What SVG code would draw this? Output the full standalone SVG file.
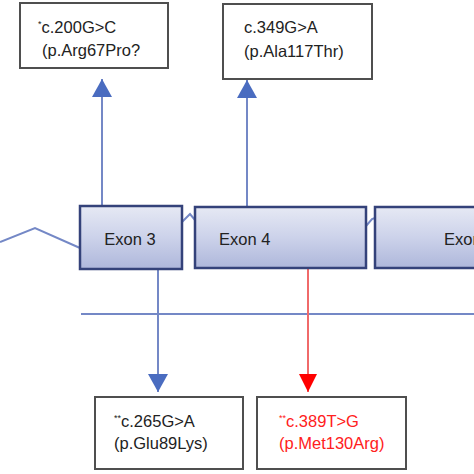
<svg xmlns="http://www.w3.org/2000/svg" width="474" height="474" viewBox="0 0 474 474">
<defs>
<linearGradient id="exg" x1="0" y1="0" x2="0" y2="1">
<stop offset="0" stop-color="#e6e9f4"/>
<stop offset="0.5" stop-color="#ccd2ea"/>
<stop offset="1" stop-color="#aeb7db"/>
</linearGradient>
<marker id="ahb" markerUnits="userSpaceOnUse" markerWidth="22" markerHeight="20" refX="18" refY="10" orient="auto">
<path d="M0,0 L18,10 L0,20 Z" fill="#4a6cc0"/>
</marker>
<marker id="ahr" markerUnits="userSpaceOnUse" markerWidth="22" markerHeight="20" refX="18" refY="10" orient="auto">
<path d="M0,1 L18,10 L0,19 Z" fill="#ff0000"/>
</marker>
</defs>
<style>
.box{fill:#ffffff;stroke:#4f4f4f;stroke-width:2}
.exon{fill:url(#exg);stroke:#34427a;stroke-width:2.5}
.t{font-family:"Liberation Sans",Arial,sans-serif;font-size:16.5px;fill:#222222}
.red{fill:#ff2020}
.sup{font-size:9px}
.ln{fill:none;stroke:#7488c6;stroke-width:2}
.lr{fill:none;stroke:#f06a6a;stroke-width:2}
</style>
<rect width="474" height="474" fill="#ffffff"/>
<g id="connectors">
<polyline class="ln" points="0,242 35,228 80,248"/>
<polyline class="ln" points="182,222 190,214 195,220"/>
<polyline class="ln" points="366,226 372,219 375,218"/>
<line class="ln" x1="81" y1="314" x2="474" y2="314"/>
<line class="ln" x1="102" y1="206" x2="102" y2="79" marker-end="url(#ahb)"/>
<line class="ln" x1="247" y1="207" x2="247" y2="80" marker-end="url(#ahb)"/>
<line class="ln" x1="158" y1="269" x2="158" y2="392" marker-end="url(#ahb)"/>
<line class="lr" x1="308" y1="268" x2="308" y2="392" marker-end="url(#ahr)"/>
</g>
<g id="exon3">
<rect class="exon" x="80" y="206" width="102" height="63"/>
<text class="t" x="130" y="245" text-anchor="middle">Exon 3</text>
</g>
<g id="exon4">
<rect class="exon" x="195" y="207" width="171" height="61"/>
<text class="t" x="219" y="245">Exon 4</text>
</g>
<g id="exon5">
<rect class="exon" x="375" y="207" width="110" height="61"/>
<text class="t" x="444" y="245">Exon</text>
</g>
<g id="var200">
<rect class="box" x="20" y="3" width="148" height="65"/>
<text class="t" x="38" y="33"><tspan class="sup" dy="-6">*</tspan><tspan dy="6">c.200G&gt;C</tspan></text>
<text class="t" x="42" y="56">(p.Arg67Pro?</text>
</g>
<g id="var349">
<rect class="box" x="223" y="4" width="149" height="75"/>
<text class="t" x="244" y="33">c.349G&gt;A</text>
<text class="t" x="244" y="57">(p.Ala117Thr)</text>
</g>
<g id="var265">
<rect class="box" x="95" y="397" width="148" height="72"/>
<text class="t" x="114" y="427"><tspan class="sup" dy="-6">**</tspan><tspan dy="6">c.265G&gt;A</tspan></text>
<text class="t" x="114" y="449">(p.Glu89Lys)</text>
</g>
<g id="var389">
<rect class="box" x="257" y="397" width="149" height="72"/>
<text class="t red" x="279" y="427"><tspan class="sup" dy="-6">**</tspan><tspan dy="6">c.389T&gt;G</tspan></text>
<text class="t red" x="279" y="449">(p.Met130Arg)</text>
</g>
</svg>
